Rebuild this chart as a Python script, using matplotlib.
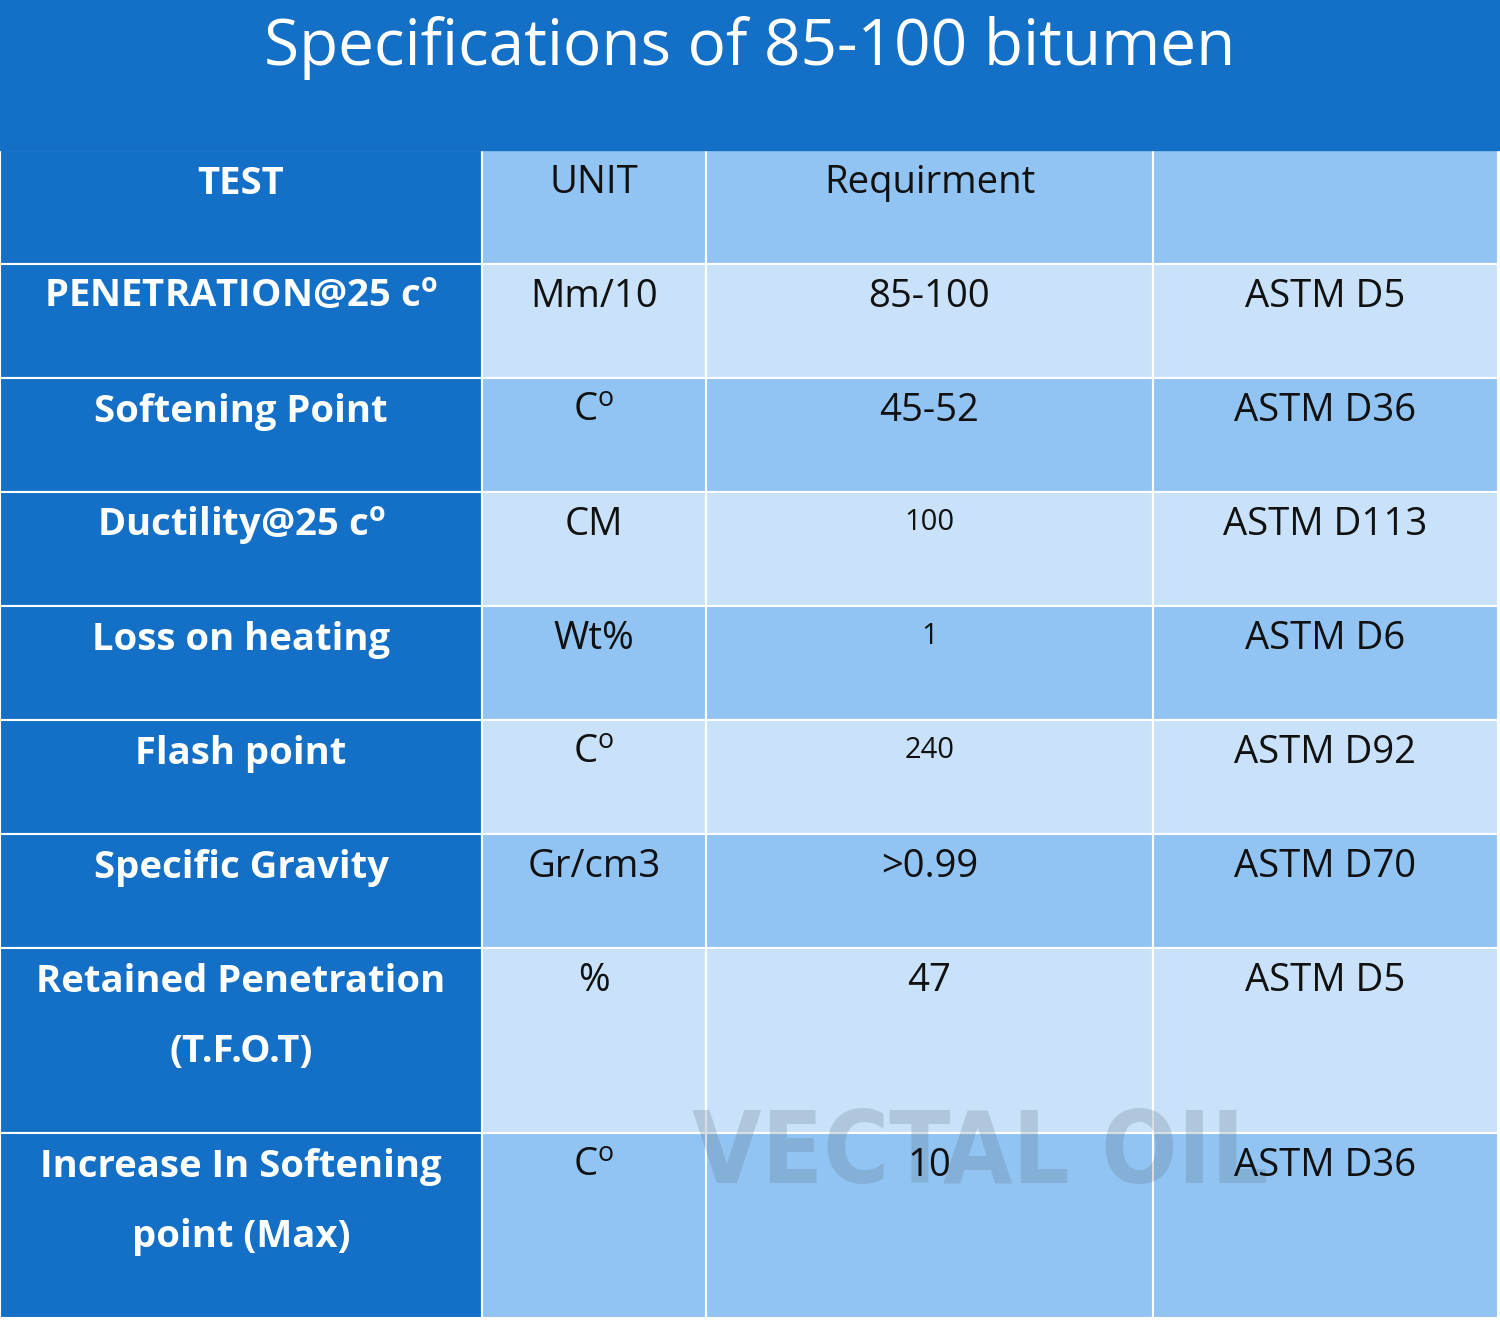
import matplotlib
matplotlib.use("Agg")
import matplotlib.pyplot as plt
from matplotlib.patches import Rectangle

title = "Specifications of 85-100 bitumen"
header = ["TEST", "UNIT", "Requirment", ""]
tests = ["PENETRATION@25 c$^{\\mathregular{o}}$", "Softening Point", "Ductility@25 c$^{\\mathregular{o}}$",
         "Loss on heating", "Flash point", "Specific Gravity",
         "Retained Penetration\n(T.F.O.T)", "Increase In Softening\npoint (Max)"]
units = ["Mm/10", "C$^{\\mathregular{o}}$", "CM", "Wt%", "C$^{\\mathregular{o}}$", "Gr/cm3", "%", "C$^{\\mathregular{o}}$"]
reqs = ["85-100", "45-52", "100", "1", "240", ">0.99", "47", "10"]
methods = ["ASTM D5", "ASTM D36", "ASTM D113", "ASTM D6", "ASTM D92", "ASTM D70", "ASTM D5", "ASTM D36"]

W, H = 1500, 1321
fig = plt.figure(figsize=(15, 13.21), dpi=100)
ax = fig.add_axes([0, 0, 1, 1])
ax.set_xlim(0, W); ax.set_ylim(H, 0); ax.axis("off")
FONT = "Open Sans"
dark = "#1370C6"; mid = "#92C4F3"; light = "#C9E2F9"
cols = [0, 482, 706, 1153, 1498]
rows = [150, 264, 378, 492, 606, 720, 834, 948, 1133, 1318]

ax.add_patch(Rectangle((0, 0), W, 150, color=dark))
ax.text(750, 48, title, color="white", fontsize=46, ha="center", va="center", family=FONT)

ax.text(980, 1155, "VECTAL OIL", color="#556677", alpha=0.22, fontsize=72, fontweight="bold",
        ha="center", va="center", family="DejaVu Sans", stretch="condensed", zorder=0.5)

for r in range(len(rows) - 1):
    y0, y1 = rows[r], rows[r + 1]
    bg = mid if r % 2 == 0 else light
    if r == 0:
        cells = header
    else:
        i = r - 1
        cells = [tests[i], units[i], reqs[i], methods[i]]
    for c in range(4):
        x0, x1 = cols[c], cols[c + 1]
        ax.add_patch(Rectangle((x0, y0), x1 - x0, y1 - y0, facecolor=dark if c == 0 else bg,
                               edgecolor="white", lw=1.5, zorder=0.1))
        txt = cells[c]
        if c == 0:
            for k, line in enumerate(txt.split("\n")):
                ax.text((x0 + x1) / 2, y0 + 34 + 70 * k, line, color="white", fontsize=27.5,
                        fontweight="bold", ha="center", va="center", family=FONT)
        else:
            small = c == 2 and txt in ("100", "1", "240")
            ax.text((x0 + x1) / 2, y0 + (30 if small else 33), txt, color="#111111",
                    fontsize=21 if small else 27.5, ha="center", va="center", family=FONT)

fig.savefig("out.png", dpi=100)
